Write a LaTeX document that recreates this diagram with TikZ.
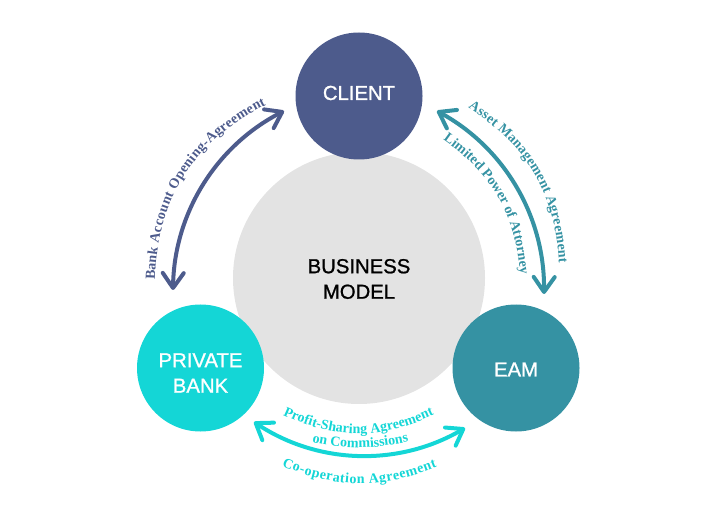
\documentclass[tikz,border=0pt]{standalone}
\usepackage{fontspec}
\setmainfont{Liberation Serif}
\newfontfamily\discfont[FakeBold=1]{Liberation Sans}
\usetikzlibrary{arrows.meta,decorations.text}
\definecolor{clientc}{HTML}{4D5B8C}
\definecolor{eamc}{HTML}{3592A3}
\definecolor{bankc}{HTML}{14D6D6}
\definecolor{corec}{HTML}{E3E3E3}
\newcommand{\lblfont}{\fontsize{14}{16}\selectfont\bfseries}
\tikzset{
  disc/.style={circle,inner sep=0pt,minimum size=127pt},
  disctext/.style={inner sep=0pt,text=white,align=center,font=\discfont\fontsize{20.3}{25.5}\selectfont},
  dblarrow/.style={line width=4pt,line cap=round,{Straight Barb[length=15pt,width=21pt,round]}-{Straight Barb[length=15pt,width=21pt,round]}},
  lbl/.style n args={2}{decorate,decoration={text along path,text align=fit to path,text color=#1,text={|\lblfont|#2}}}
}
\begin{document}
\begin{tikzpicture}[x=1pt,y=1pt]
\useasboundingbox (0,0) rectangle (714,517);
\node[disc,fill=corec,minimum size=252pt] (core) at (359,239) {};
\node[disc,fill=clientc] (client) at (359,421) {};
\node[disc,fill=bankc] (bank) at (200.5,149) {};
\node[disc,fill=eamc] (eam) at (516,149) {};
\node[disctext,text=black] (coretext) at ([yshift=-1pt]core.center) {BUSINESS\\MODEL};
\node[disctext] (clienttext) at ([yshift=3pt]client.center) {CLIENT};
\node[disctext] (banktext) at ([yshift=-5pt]bank.center) {PRIVATE\\BANK};
\node[disctext] (eamtext) at ([yshift=-1.5pt]eam.center) {EAM};
\coordinate (l1) at (173,227); \coordinate (l2) at (284,406);
\coordinate (r1) at (437,406); \coordinate (r2) at (544,223);
\coordinate (b1) at (254,95);  \coordinate (b2) at (465,89);
\draw[dblarrow,draw=clientc] (l1) to[bend left=31,looseness=.93] (l2);
\draw[dblarrow,draw=eamc] (r1) to[bend left=31,looseness=.93] (r2);
\draw[dblarrow,draw=bankc] (b1) to[bend right=32,looseness=.93] (b2);
\coordinate (t1a) at (155,237); \coordinate (t1b) at (266,412);
\coordinate (t2a) at (468,409); \coordinate (t2b) at (559,254);
\coordinate (t3a) at (443,377); \coordinate (t3b) at (520,244);
\coordinate (t4a) at (283,102); \coordinate (t4b) at (434,102);
\coordinate (t5a) at (312,75);  \coordinate (t5b) at (407,75);
\coordinate (t6a) at (282,51);  \coordinate (t6b) at (437,50);
\path[lbl={clientc}{Bank Account Opening-Agreement}] (t1a) to[bend left=31] (t1b);
\path[lbl={eamc}{Asset Management Agreement}] (t2a) to[bend left=27] (t2b);
\path[lbl={eamc}{Limited Power of Attorney}] (t3a) to[bend left=25] (t3b);
\path[lbl={bankc}{Profit-Sharing Agreement}] (t4a) to[bend right=25] (t4b);
\path[lbl={bankc}{on Commissions}] (t5a) to[bend right=12] (t5b);
\path[lbl={bankc}{Co-operation Agreement}] (t6a) to[bend right=22] (t6b);
\end{tikzpicture}
\end{document}
